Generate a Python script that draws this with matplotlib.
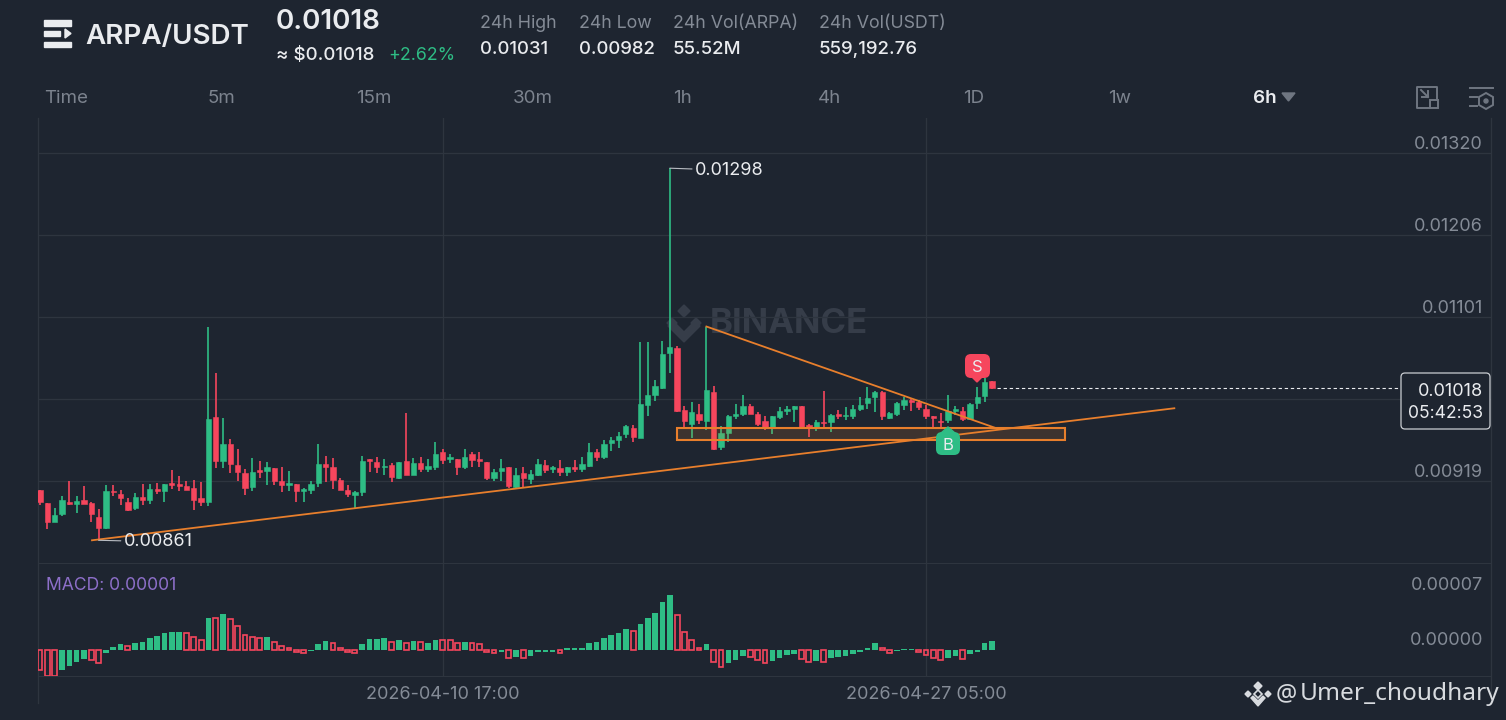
import matplotlib
matplotlib.use("Agg")
import matplotlib.pyplot as plt
from matplotlib.patches import Circle, FancyBboxPatch, Polygon, Rectangle

plt.rcParams["font.family"] = ["Inter", "DejaVu Sans"]

BG = "#1e2530"
GRID = "#2e353f"
GREEN = "#2ebd85"
RED = "#f6465d"
ORANGE = "#e87f2c"
MUTED = "#848b96"
WHITE = "#eaecef"
ICON = "#6f7681"
TAB = "#7c838e"

W, H = 1506, 720
PLOT_LEFT, PLOT_RIGHT = 38, 1491
PRICE_TOP, PRICE_BOTTOM, MACD_BOTTOM = 118, 563, 676
FIRST_CANDLE_X, CANDLE_STEP = 40, 7.323

# candle values in units of 0.00001 USDT
opens = [
    910, 897, 879, 886, 898, 896, 900, 897, 883, 873,
    909, 906, 898, 892, 903, 900, 911, 909, 917, 916,
    914, 912, 902, 898, 986, 940, 957, 936, 927, 913,
    930, 929, 932, 919, 915, 916, 909, 910, 917, 937,
    933, 920, 910, 905, 908, 942, 939, 934, 936, 922,
    940, 925, 938, 931, 933, 949, 942, 942, 933, 947,
    942, 939, 922, 929, 933, 913, 927, 921, 925, 936,
    931, 932, 928, 933, 931, 935, 949, 944, 959, 962,
    968, 975, 964, 1000, 1011, 1019, 1059, 1065, 994, 979,
    990, 982, 1014, 954, 969, 987, 990, 998, 990, 982,
    975, 986, 993, 995, 998, 978, 976, 981, 981, 990,
    987, 988, 995, 1002, 1008, 1014, 985, 990, 1000, 1005,
    1003, 995, 987, 982, 983, 993, 993, 984, 1002, 1010, 1026,
]
highs = [
    910, 897, 892, 904, 919, 904, 914, 898, 891, 915,
    915, 910, 902, 907, 916, 916, 917, 916, 930, 924,
    919, 920, 918, 1089, 1035, 985, 963, 952, 931, 943,
    940, 939, 932, 933, 929, 916, 912, 919, 958, 945,
    943, 922, 915, 909, 945, 942, 944, 942, 938, 939,
    991, 943, 944, 942, 960, 952, 947, 942, 952, 949,
    949, 939, 931, 942, 933, 932, 933, 930, 942, 941,
    935, 941, 934, 941, 944, 959, 952, 962, 965, 970,
    978, 978, 1071, 1072, 1028, 1073, 1298, 1067, 999, 1003,
    1001, 1090, 1021, 977, 989, 1001, 1011, 1001, 992, 987,
    987, 997, 999, 999, 998, 979, 983, 1015, 990, 994,
    997, 1000, 1008, 1020, 1015, 1015, 992, 1003, 1009, 1006,
    1005, 1000, 987, 991, 1011, 998, 997, 1002, 1020, 1030, 1026,
]
lows = [
    895, 872, 879, 884, 895, 887, 896, 879, 861, 872,
    904, 895, 889, 890, 895, 896, 906, 898, 911, 909,
    910, 890, 894, 894, 932, 932, 927, 919, 905, 909,
    922, 915, 915, 908, 909, 898, 898, 906, 913, 918,
    911, 910, 903, 892, 904, 928, 927, 925, 918, 921,
    925, 925, 928, 928, 930, 937, 938, 925, 931, 934,
    934, 920, 919, 919, 912, 912, 912, 916, 924, 927,
    927, 924, 924, 928, 928, 934, 940, 942, 950, 953,
    964, 960, 964, 987, 1004, 1017, 1035, 992, 976, 964,
    979, 972, 951, 951, 960, 984, 987, 990, 977, 972,
    968, 984, 989, 981, 974, 965, 971, 975, 970, 984,
    983, 984, 993, 995, 992, 983, 984, 987, 994, 993,
    994, 984, 974, 974, 980, 989, 982, 984, 995, 1003, 1017,
]
closes = [
    898, 879, 885, 900, 896, 899, 896, 886, 873, 909,
    908, 902, 890, 903, 900, 911, 909, 916, 915, 914,
    910, 900, 898, 984, 940, 958, 937, 928, 912, 928,
    928, 933, 919, 915, 917, 909, 911, 916, 937, 934,
    920, 910, 906, 908, 940, 940, 933, 935, 923, 939,
    925, 938, 931, 935, 947, 941, 944, 933, 944, 941,
    940, 922, 928, 932, 914, 925, 922, 926, 937, 930,
    933, 928, 933, 931, 937, 949, 944, 958, 962, 966,
    977, 965, 1001, 1011, 1021, 1058, 1066, 993, 982, 992,
    983, 1016, 952, 969, 988, 990, 998, 990, 979, 975,
    987, 993, 995, 998, 976, 976, 981, 980, 989, 987,
    989, 995, 1000, 1007, 1014, 987, 991, 1002, 1005, 1003,
    997, 987, 985, 981, 993, 995, 984, 1001, 1009, 1025, 1018,
]

# histogram in units of 0.000001, its zero is not the 0.00000 axis label
macd_hist = [
    -20, -26, -26, -20, -16, -12, -9, -10, -13, -3,
    3, 6, 4, 7, 8, 12, 14, 17, 18, 18,
    17, 13, 10, 32, 32, 36, 31, 24, 15, 13,
    12, 13, 8, 4, 2, -2, -3, -1, 6, 9,
    7, 2, -2, -3, 6, 11, 11, 12, 8, 10,
    7, 9, 8, 7, 10, 10, 10, 7, 8, 7,
    6, -2, -2.5, -2, -8, -7, -8, -6, -1.5, -1.5,
    -1.5, -2.5, 2, 2, 2, 7, 8, 12, 15, 17,
    21, 19, 26, 32, 37, 48, 55, 35, 18, 10,
    2, 6, -12, -17, -13, -10, -6, -7, -10, -13,
    -11, -8, -5, -3.5, -9, -12, -11, -12, -8, -7,
    -6, -3.5, -1.5, 2.5, 7, 2, -3, -1, 1.5, 1.5,
    -2, -5, -8, -10, -8, -6, -9, -4, -1.5, 7, 9,
]
macd_hollow = [
    0, 1, 2, 7, 8, 12, 20, 21, 22, 24, 26, 27, 28, 29, 30, 32, 33, 34, 35, 36,
    40, 41, 42, 43, 48, 50, 52, 55, 56, 57, 59, 60, 61, 62, 64, 66, 71, 81, 87,
    88, 89, 90, 92, 93, 97, 98, 99, 104, 105, 107, 115, 116, 120, 121, 122, 123, 126,
]

price_ticks = [0.01320, 0.01206, 0.01101, 0.01006, 0.00919]
price_labels = ["0.01320", "0.01206", "0.01101", "", "0.00919"]
macd_ticks = [0.00007, 0.0]
macd_labels = ["0.00007", "0.00000"]
date_ticks = [55, 121]
date_labels = ["2026-04-10 17:00", "2026-04-27 05:00"]

tabs = ["Time", "5m", "15m", "30m", "1h", "4h", "1D", "1w"]
tab_x = [44, 208, 356, 513, 673, 818, 963, 1108]
stat_names = ["24h High", "24h Low", "24h Vol(ARPA)", "24h Vol(USDT)"]
stat_values = ["0.01031", "0.00982", "55.52M", "559,192.76"]
stat_x = [480, 579, 673, 819]

# drawn objects, x in candle index, price in USDT
rising_line = ([7.1, 154.9], [0.00861, 0.00996])
falling_line = ([91, 130.7], [0.01090, 0.00974])
zone = (87, 140, 0.00962, 0.00975)


def fig_rect(left, top, right, bottom):
    return [left / W, 1 - bottom / H, (right - left) / W, (bottom - top) / H]


fig = plt.figure(figsize=(W / 100, H / 100), dpi=100, facecolor=BG)

chrome = fig.add_axes([0, 0, 1, 1], zorder=0)
chrome.set_xlim(0, W)
chrome.set_ylim(H, 0)
chrome.axis("off")

ax = fig.add_axes(fig_rect(PLOT_LEFT, PRICE_TOP, PLOT_RIGHT, PRICE_BOTTOM), zorder=1)
ax_macd = fig.add_axes(fig_rect(PLOT_LEFT, PRICE_BOTTOM, PLOT_RIGHT, MACD_BOTTOM), zorder=1)
top = fig.add_axes([0, 0, 1, 1], zorder=3)
top.set_xlim(0, W)
top.set_ylim(H, 0)
top.axis("off")

xlim = ((PLOT_LEFT - FIRST_CANDLE_X) / CANDLE_STEP, (PLOT_RIGHT - FIRST_CANDLE_X) / CANDLE_STEP)


def style_axes(a):
    a.patch.set_alpha(0)
    for side in a.spines:
        a.spines[side].set_visible(False)
    a.spines["bottom"].set_visible(True)
    a.spines["bottom"].set_color(GRID)
    a.grid(True, color=GRID, linewidth=0.9)
    a.set_axisbelow(True)
    a.set_xlim(*xlim)
    a.set_xticks(date_ticks)


# candles
xs = list(range(len(closes)))
ups = [c >= o for o, c in zip(opens, closes)]
colors = [GREEN if u else RED for u in ups]
ax.vlines(xs, [v * 1e-5 for v in lows], [v * 1e-5 for v in highs], colors=colors, linewidth=1.2, zorder=3)
ax.bar(
    xs,
    [abs(c - o) * 1e-5 for o, c in zip(opens, closes)],
    bottom=[min(o, c) * 1e-5 for o, c in zip(opens, closes)],
    width=0.72,
    color=colors,
    edgecolor=colors,
    linewidth=0.4,
    zorder=4,
)

ax.set_yscale("log")
ax.set_ylim(0.008397, 0.013719)
style_axes(ax)
ax.set_yticks(price_ticks, price_labels)
ax.minorticks_off()
ax.yaxis.tick_right()
ax.tick_params(axis="y", length=0, pad=-5.8, labelcolor=MUTED, labelsize=13)
for label in ax.get_yticklabels():
    label.set_ha("right")
    label.set_va("bottom")
ax.tick_params(axis="x", length=0, labelbottom=False)

# drawings on the price chart
ax.add_patch(Rectangle((zone[0], zone[2]), zone[1] - zone[0], zone[3] - zone[2],
                       facecolor=ORANGE, alpha=0.16, edgecolor="none", zorder=5))
ax.add_patch(Rectangle((zone[0], zone[2]), zone[1] - zone[0], zone[3] - zone[2],
                       fill=False, edgecolor=ORANGE, linewidth=1.5, zorder=6))
ax.plot(*rising_line, color=ORANGE, linewidth=1.3, zorder=6)
ax.plot(*falling_line, color=ORANGE, linewidth=1.3, zorder=6)

hi_i = highs.index(max(highs))
lo_i = lows.index(min(lows))
ax.annotate(f"{max(highs) * 1e-5:.5f}", (hi_i, max(highs) * 1e-5), xytext=(18, -1.5), textcoords="offset points",
            color=WHITE, fontsize=13, va="center", arrowprops=dict(arrowstyle="-", color="#b8bcc2", lw=0.8, shrinkA=0, shrinkB=0), zorder=7)
ax.annotate(f"{min(lows) * 1e-5:.5f}", (lo_i, min(lows) * 1e-5), xytext=(18, -1), textcoords="offset points",
            color=WHITE, fontsize=13, va="center", arrowprops=dict(arrowstyle="-", color="#b8bcc2", lw=0.8, shrinkA=0, shrinkB=0), zorder=7)

# last price dashed line
ax.plot([130.7, (1400 - FIRST_CANDLE_X) / CANDLE_STEP], [closes[-1] * 1e-5] * 2, color=WHITE,
        linewidth=0.8, dashes=(3, 2.5), zorder=3)

# macd
solid = [i for i in xs if i not in macd_hollow]
ax_macd.bar(solid, [macd_hist[i] for i in solid], width=0.76, color=GREEN, zorder=3)
ax_macd.bar(macd_hollow, [macd_hist[i] for i in macd_hollow], width=0.66, facecolor="none", edgecolor=RED,
            linewidth=1.2, zorder=3)
ax_macd.set_ylim(-26, 87)
style_axes(ax_macd)
ax_macd.grid(False, axis="y")
ax_macd.set_yticks([])
ax_macd.set_xticks(date_ticks, date_labels)
ax_macd.tick_params(axis="x", length=0, pad=7, labelcolor=MUTED, labelsize=13)

ax_labels = ax_macd.twinx()
ax_labels.patch.set_alpha(0)
for side in ax_labels.spines:
    ax_labels.spines[side].set_visible(False)
ax_labels.set_ylim(-0.0000471, 0.0000967)
ax_labels.set_yticks(macd_ticks, macd_labels)
ax_labels.tick_params(axis="y", length=0, pad=-5.8, labelcolor=MUTED, labelsize=13)
for label in ax_labels.get_yticklabels():
    label.set_ha("right")

# frame lines that run past the axes
chrome.plot([PLOT_LEFT, PLOT_LEFT], [PRICE_TOP, 703], color=GRID, linewidth=0.9)
chrome.plot([PLOT_RIGHT, PLOT_RIGHT], [PRICE_TOP, 703], color=GRID, linewidth=0.9)

# watermark
WATERMARK = "#363d49"
chrome.text(710, 324, "BINANCE", color=WATERMARK, fontsize=25, fontweight="bold", va="center", ha="left")
for cx, cy, r in [(684, 311, 6), (672, 323, 5), (696, 323, 5)]:
    chrome.add_patch(Polygon([(cx, cy - r), (cx + r, cy), (cx, cy + r), (cx - r, cy)], color=WATERMARK))
chrome.add_patch(Polygon([(668, 326), (673, 321), (684, 332), (695, 321), (700, 326), (684, 342)], color=WATERMARK))

# header
chrome.add_patch(Rectangle((44, 20), 27, 6, color=WHITE))
chrome.add_patch(Rectangle((44, 31), 16, 5, color=WHITE))
chrome.add_patch(Polygon([(65, 29), (71, 33.5), (65, 38)], color=WHITE))
chrome.add_patch(Rectangle((44, 42), 27, 5, color=WHITE))
chrome.text(85, 37, "ARPA/USDT", color=WHITE, fontsize=20, fontweight="semibold", va="center")
chrome.text(276, 22, "0.01018", color=WHITE, fontsize=20, fontweight="semibold", va="center")
chrome.text(276, 56, "≈ $0.01018", color=WHITE, fontsize=13.5, fontweight="medium", va="center")
chrome.text(388, 56, "+2.62%", color=GREEN, fontsize=12.8, va="center")
for name, value, x in zip(stat_names, stat_values, stat_x):
    chrome.text(x, 23, name, color=MUTED, fontsize=12.8, va="center")
    chrome.text(x, 50, value, color=WHITE, fontsize=13.4, fontweight="medium", va="center")

# interval tabs
for label, x in zip(tabs, tab_x):
    chrome.text(x, 98.5, label, color=TAB, fontsize=13.5, va="center")
chrome.text(1253, 98.5, "6h", color=WHITE, fontsize=13.5, fontweight="semibold", va="center")
chrome.add_patch(Polygon([(1282, 93), (1295, 93), (1288.5, 101)], color=ICON))

# toolbar icons
chrome.plot([1430, 1417.5, 1417.5, 1437.5, 1437.5], [107.5, 107.5, 86.5, 86.5, 100], color=ICON, linewidth=1.4)
chrome.add_patch(Rectangle((1430, 100), 8, 7.5, fill=False, edgecolor=ICON, linewidth=1.4))
chrome.plot([1421, 1428], [90, 97], color=ICON, linewidth=1.4)
chrome.plot([1422, 1428, 1428], [97, 97, 91], color=ICON, linewidth=1.4)
chrome.plot([1470, 1493], [88, 88], color=ICON, linewidth=1.4)
chrome.plot([1470, 1477], [97, 97], color=ICON, linewidth=1.4)
chrome.plot([1470, 1477], [106, 106], color=ICON, linewidth=1.4)
chrome.add_patch(Polygon([(1486, 93), (1493, 97), (1493, 105), (1486, 109), (1479, 105), (1479, 97)],
                         fill=False, edgecolor=ICON, linewidth=1.4))
chrome.add_patch(Circle((1486, 101), 2, color=ICON))

chrome.text(46, 585.5, "MACD: 0.00001", color="#8d6fc9", fontsize=12.6, va="center")

# buy and sell pins
top.add_patch(FancyBboxPatch((971, 360), 13, 12, boxstyle="round,pad=6", color=RED, lw=0))
top.add_patch(Polygon([(972, 377), (982, 377), (977, 382)], color=RED))
top.text(977.5, 367, "S", color=WHITE, fontsize=12, ha="center", va="center")
top.add_patch(FancyBboxPatch((942, 438), 12, 11, boxstyle="round,pad=6", color=GREEN, lw=0))
top.add_patch(Polygon([(941, 433), (955, 433), (948, 427)], color=GREEN))
top.text(948.5, 446, "B", color=WHITE, fontsize=12, ha="center", va="center")

# last price box
top.add_patch(FancyBboxPatch((1405, 377), 81, 48, boxstyle="round,pad=4", facecolor=BG, edgecolor="#c9cdd2", linewidth=0.9))
top.text(1483, 391, "0.01018", color=WHITE, fontsize=13, ha="right", va="center")
top.text(1483, 414, "05:42:53", color=WHITE, fontsize=12.6, ha="right", va="center")

# author stamp
logo = "#d8dbdf"
for cx, cy, r in [(1258, 686, 4), (1248, 694, 3), (1268, 694, 3)]:
    top.add_patch(Polygon([(cx, cy - r), (cx + r, cy), (cx, cy + r), (cx - r, cy)], color=logo))
top.add_patch(Polygon([(1258, 690), (1262, 694), (1258, 698), (1254, 694)], fill=False, edgecolor=logo, linewidth=1.2))
top.add_patch(Polygon([(1251, 698), (1253, 696), (1258, 701), (1263, 696), (1265, 698), (1258, 706)], color=logo))
top.text(1276, 694, "@", color=logo, fontsize=17, family="Noto Sans", va="center")
top.text(1300, 694, "Umer_choudhary", color=logo, fontsize=17.6, family="Noto Sans", va="center")

fig.savefig("out.png", dpi=100, facecolor=BG)
